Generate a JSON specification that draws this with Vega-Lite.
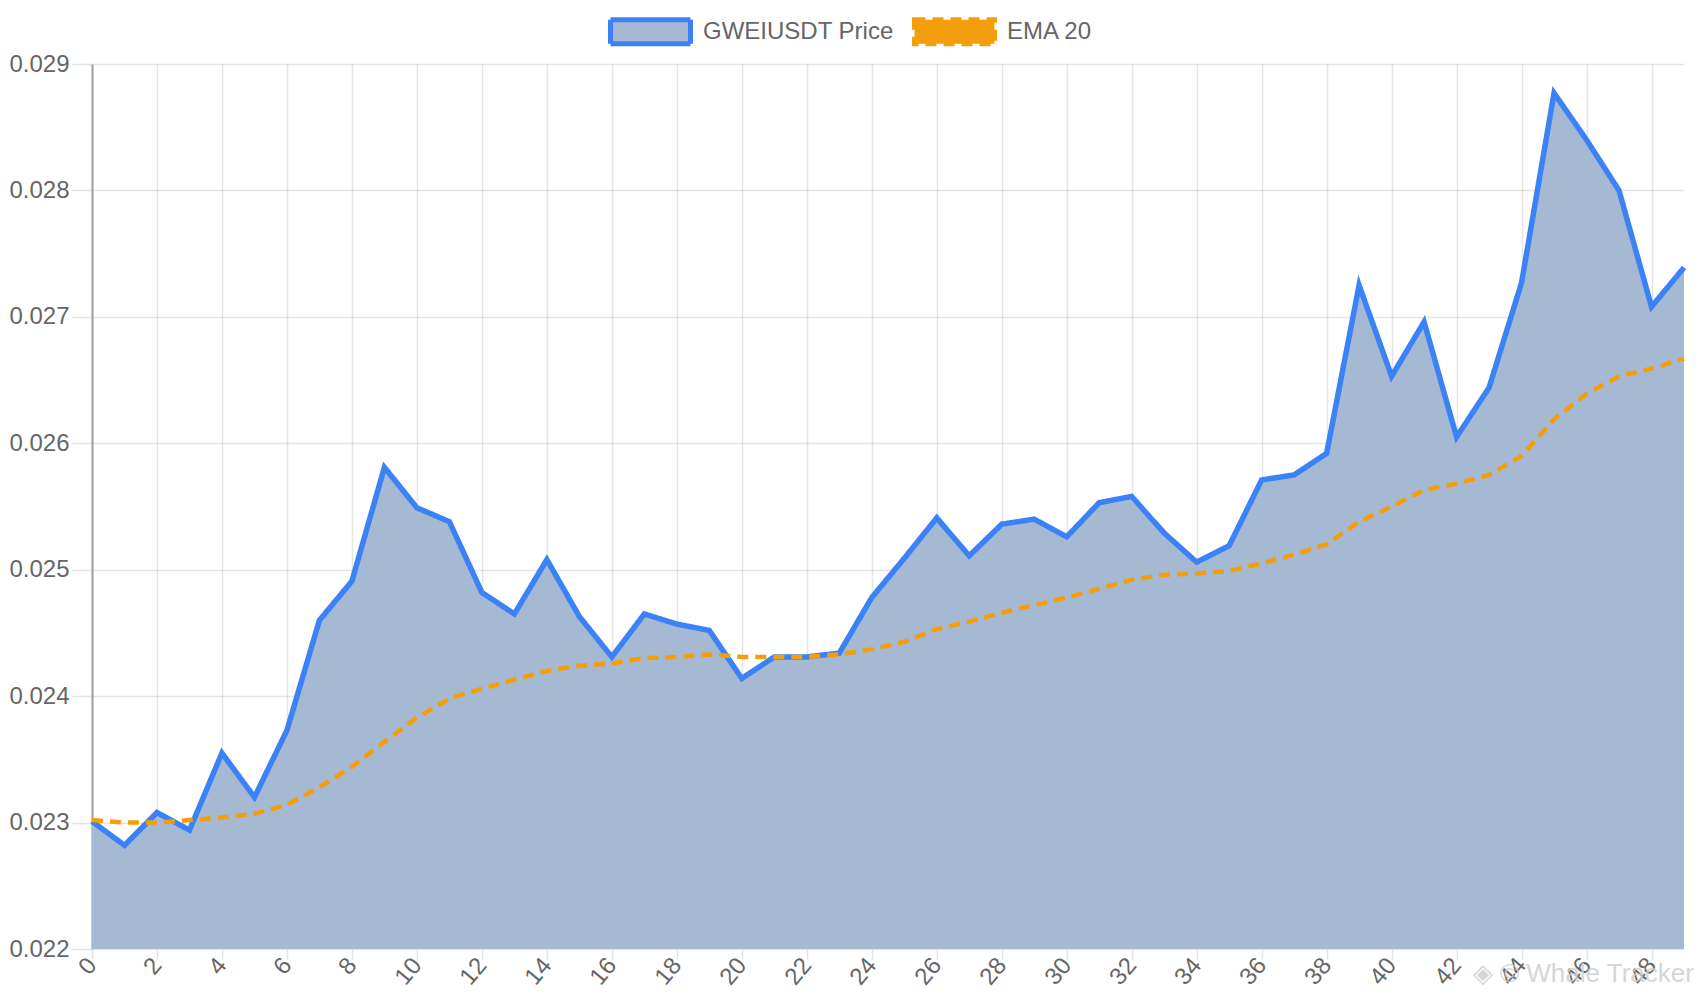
{
  "$schema": "https://vega.github.io/schema/vega-lite/v6.json",
  "width": 1592,
  "height": 885,
  "autosize": {"type": "none"},
  "padding": {"left": 92, "top": 64, "right": 16, "bottom": 51},
  "config": {
    "font": "Liberation Sans",
    "view": {"stroke": null},
    "axis": {
      "labelFont": "Liberation Sans",
      "labelColor": "#666666",
      "labelFontSize": 24,
      "gridColor": "#000000",
      "gridOpacity": 0.1,
      "gridWidth": 1.5,
      "tickColor": "#e3e3e3",
      "tickWidth": 1.5,
      "zindex": 1,
      "title": null
    },
    "legend": {
      "orient": "none",
      "direction": "horizontal",
      "legendX": 516,
      "legendY": -75,
      "title": null,
      "padding": 0,
      "symbolType": "M-1,-0.3H1V0.3H-1Z",
      "symbolSize": 6400,
      "symbolStrokeWidth": 5,
      "symbolOpacity": 1,
      "labelFontSize": 24,
      "labelLimit": 400,
      "labelColor": "#666666",
      "labelOffset": 10,
      "columnPadding": 10
    }
  },
  "data": {
    "values": [
      {"i": 0, "price": 0.02301, "ema": 0.02302},
      {"i": 1, "price": 0.02282, "ema": 0.02300},
      {"i": 2, "price": 0.02308, "ema": 0.02300},
      {"i": 3, "price": 0.02294, "ema": 0.02302},
      {"i": 4, "price": 0.02355, "ema": 0.02304},
      {"i": 5, "price": 0.02320, "ema": 0.02307},
      {"i": 6, "price": 0.02373, "ema": 0.02314},
      {"i": 7, "price": 0.02460, "ema": 0.02328},
      {"i": 8, "price": 0.02491, "ema": 0.02344},
      {"i": 9, "price": 0.02581, "ema": 0.02364},
      {"i": 10, "price": 0.02549, "ema": 0.02383},
      {"i": 11, "price": 0.02538, "ema": 0.02398},
      {"i": 12, "price": 0.02482, "ema": 0.02406},
      {"i": 13, "price": 0.02465, "ema": 0.02413},
      {"i": 14, "price": 0.02508, "ema": 0.02420},
      {"i": 15, "price": 0.02463, "ema": 0.02424},
      {"i": 16, "price": 0.02431, "ema": 0.02426},
      {"i": 17, "price": 0.02465, "ema": 0.02430},
      {"i": 18, "price": 0.02457, "ema": 0.02431},
      {"i": 19, "price": 0.02452, "ema": 0.02433},
      {"i": 20, "price": 0.02414, "ema": 0.02431},
      {"i": 21, "price": 0.02431, "ema": 0.02431},
      {"i": 22, "price": 0.02431, "ema": 0.02431},
      {"i": 23, "price": 0.02434, "ema": 0.02433},
      {"i": 24, "price": 0.02478, "ema": 0.02437},
      {"i": 25, "price": 0.02509, "ema": 0.02443},
      {"i": 26, "price": 0.02541, "ema": 0.02453},
      {"i": 27, "price": 0.02511, "ema": 0.02459},
      {"i": 28, "price": 0.02536, "ema": 0.02466},
      {"i": 29, "price": 0.02540, "ema": 0.02472},
      {"i": 30, "price": 0.02526, "ema": 0.02478},
      {"i": 31, "price": 0.02553, "ema": 0.02485},
      {"i": 32, "price": 0.02558, "ema": 0.02492},
      {"i": 33, "price": 0.02529, "ema": 0.02496},
      {"i": 34, "price": 0.02506, "ema": 0.02497},
      {"i": 35, "price": 0.02519, "ema": 0.02499},
      {"i": 36, "price": 0.02571, "ema": 0.02505},
      {"i": 37, "price": 0.02575, "ema": 0.02512},
      {"i": 38, "price": 0.02592, "ema": 0.02520},
      {"i": 39, "price": 0.02725, "ema": 0.02538},
      {"i": 40, "price": 0.02653, "ema": 0.02550},
      {"i": 41, "price": 0.02696, "ema": 0.02563},
      {"i": 42, "price": 0.02605, "ema": 0.02568},
      {"i": 43, "price": 0.02644, "ema": 0.02575},
      {"i": 44, "price": 0.02727, "ema": 0.02590},
      {"i": 45, "price": 0.02877, "ema": 0.02619},
      {"i": 46, "price": 0.02840, "ema": 0.02639},
      {"i": 47, "price": 0.02800, "ema": 0.02653},
      {"i": 48, "price": 0.02708, "ema": 0.02659},
      {"i": 49, "price": 0.02739, "ema": 0.02667}
    ]
  },
  "encoding": {
    "x": {
      "field": "i",
      "type": "quantitative",
      "scale": {"domain": [0, 49], "nice": false, "zero": false},
      "axis": {
        "values": [0, 2, 4, 6, 8, 10, 12, 14, 16, 18, 20, 22, 24, 26, 28, 30, 32, 34, 36, 38, 40, 42, 44, 46, 48],
        "labelAngle": -50,
        "labelPadding": 2,
        "tickSize": 10,
        "domain": false,
        "labelFlush": false,
        "labelOverlap": false
      }
    }
  },
  "layer": [
    {
      "mark": {"type": "area"},
      "encoding": {
        "y": {
          "field": "price",
          "type": "quantitative",
          "scale": {"domain": [0.022, 0.029], "nice": false, "zero": false},
          "axis": {
            "values": [0.022, 0.023, 0.024, 0.025, 0.026, 0.027, 0.028, 0.029],
            "format": ".3f",
            "tickSize": 20,
            "labelPadding": 3,
            "domainColor": "#a0a0a0",
            "domainWidth": 2
          }
        },
        "y2": {"datum": 0.022},
        "fill": {
          "datum": "GWEIUSDT Price",
          "type": "nominal",
          "scale": {"domain": ["GWEIUSDT Price", "EMA 20"], "range": ["#a6b9d3", "#f59e0b"]}
        }
      }
    },
    {
      "mark": {"type": "line", "strokeWidth": 5.5, "strokeJoin": "miter"},
      "encoding": {
        "y": {"field": "price", "type": "quantitative"},
        "stroke": {
          "datum": "GWEIUSDT Price",
          "type": "nominal",
          "scale": {"domain": ["GWEIUSDT Price", "EMA 20"], "range": ["#3b82f6", "#f59e0b"]}
        },
        "strokeDash": {
          "datum": "GWEIUSDT Price",
          "type": "nominal",
          "scale": {"domain": ["GWEIUSDT Price", "EMA 20"], "range": [[1, 0], [11, 7]]}
        }
      }
    },
    {
      "mark": {"type": "line", "strokeWidth": 4.5},
      "encoding": {
        "y": {"field": "ema", "type": "quantitative"},
        "stroke": {"datum": "EMA 20", "type": "nominal"},
        "strokeDash": {"datum": "EMA 20", "type": "nominal"}
      }
    },
    {
      "data": {"values": [{"wx": 45.9, "wy": 0.02180, "label": "◈ © Whale Tracker"}]},
      "mark": {"type": "text", "fontSize": 26, "color": "#d0d0d0", "opacity": 0.85, "clip": false},
      "encoding": {
        "x": {"field": "wx", "type": "quantitative"},
        "y": {"field": "wy", "type": "quantitative"},
        "text": {"field": "label"}
      }
    }
  ]
}
